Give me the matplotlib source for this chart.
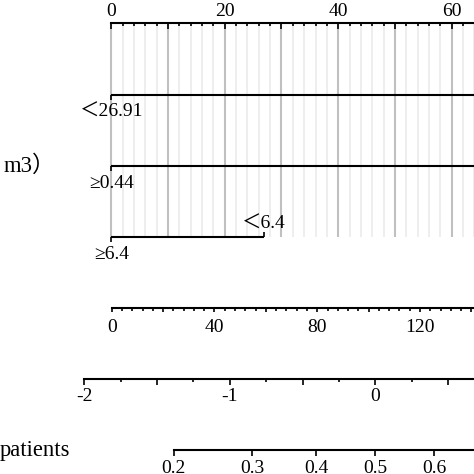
import numpy as np
import matplotlib
matplotlib.use('Agg')
import matplotlib.pyplot as plt
from matplotlib.markers import TICKDOWN, TICKUP

plt.rcParams['font.family'] = ['Liberation Serif', 'Noto Sans CJK SC']
plt.rcParams['font.size'] = 14

# Points scale
points_major = [0, 10, 20, 30, 40, 50, 60, 70, 80, 90, 100]
points_minor = [0, 2, 4, 6, 8, 10, 12, 14, 16, 18, 20, 22, 24, 26, 28, 30, 32, 34, 36, 38, 40,
                42, 44, 46, 48, 50, 52, 54, 56, 58, 60, 62, 64, 66, 68, 70, 72, 74, 76, 78, 80,
                82, 84, 86, 88, 90, 92, 94, 96, 98, 100]
points_labels = ['0', '', '20', '', '40', '', '60', '', '80', '', '100']

# Predictors (points of each level, level labels, side of label)
var1_pts = [0, 100]
var1_lab = ['＜26.91', '≥26.91']
var1_side = ['below', 'below']
var2_pts = [0, 78]
var2_lab = ['≥0.44', '＜0.44']
var2_side = ['below', 'below']
var3_pts = [0, 26.9]
var3_lab = ['≥6.4', '＜6.4']
var3_side = ['below', 'above']
predictors = [(var1_pts, var1_lab, var1_side),
              (var2_pts, var2_lab, var2_side),
              (var3_pts, var3_lab, var3_side)]

# Total points
tp_major = [0, 20, 40, 60, 80, 100, 120, 140, 160, 180]
tp_labels = ['0', '', '40', '', '80', '', '120', '', '160', '']
tp_minor = [0, 4, 8, 12, 16, 20, 24, 28, 32, 36, 40, 44, 48, 52, 56, 60, 64, 68, 72, 76, 80,
            84, 88, 92, 96, 100, 104, 108, 112, 116, 120, 124, 128, 132, 136, 140, 144, 148,
            152, 156, 160, 164, 168, 172, 176, 180]

# Linear predictor
lp_major = [-2, -1.5, -1, -0.5, 0, 0.5, 1, 1.5]
lp_labels = ['-2', '', '-1', '', '0', '', '1', '']
lp_minor = [-2, -1.75, -1.5, -1.25, -1, -0.75, -0.5, -0.25, 0, 0.25, 0.5, 0.75, 1, 1.25, 1.5]

# Risk
prob_ticks = [0.2, 0.3, 0.4, 0.5, 0.6, 0.7, 0.8]
prob_labels = ['0.2', '0.3', '0.4', '0.5', '0.6', '0.7', '0.8']

lw = 1.5
fig = plt.figure(figsize=(4.74, 4.74), dpi=100)
ax = fig.add_axes([0, 0, 1, 1])
ax_tp = ax.twiny()
ax_lp = ax.twiny()
ax_pr = ax.twiny()
ax.set_yticks([])
ax.patch.set_visible(False)


def scale(a, side, row, lo, hi, major, labels, minor, lim, direction, maj_len, min_len, pad):
    for s in a.spines.values():
        s.set_visible(False)
    sp = a.spines[side]
    sp.set_visible(True)
    sp.set_position(('data', row))
    sp.set_bounds(lo, hi)
    sp.set_linewidth(lw)
    if side == 'top':
        a.xaxis.tick_top()
    else:
        a.xaxis.tick_bottom()
    a.set_xticks(major, labels=labels)
    a.set_xticks(minor, minor=True)
    a.set_xlim(*lim)
    a.tick_params(which='major', direction=direction, length=maj_len, width=1.2, pad=pad)
    a.tick_params(which='minor', direction=direction, length=min_len, width=1.2)


# points axis on top
scale(ax, 'top', -1, 0, 100, points_major, points_labels, points_minor,
      (-19.62, 63.94), 'in', 4.3, 2.2, 2.7)
ax.set_ylim(5.333, -1.330)

# grid
ax.vlines(points_minor, -1, 2, color='#ebebeb', lw=1.2, zorder=0)
ax.vlines(points_major, -1, 2, color='#c0c0c0', lw=1.5, zorder=0.5)

# predictor rows
for i, (pts, labs, sides) in enumerate(predictors):
    ax.plot([min(pts), max(pts)], [i, i], color='black', lw=lw, solid_capstyle='butt', zorder=3)
    for p, l, s in zip(pts, labs, sides):
        mk = TICKDOWN if s == 'below' else TICKUP
        ax.plot(p, i, marker=mk, ms=3.6, mew=1.2, color='black', zorder=3)
        off = -16.2 if s == 'below' else 5.5
        ax.annotate(l, (p, i), xytext=(0, off), textcoords='offset points',
                    ha='center', va='baseline')

ax.text(0.117, 1, 'm3）', transform=ax.get_yaxis_transform(), ha='right', va='center',
        fontsize=16.3)
ax.text(0.1477, 5, 'patients', transform=ax.get_yaxis_transform(), ha='right', va='center',
        fontsize=16.3)

scale(ax_tp, 'bottom', 3, 0, 180, tp_major, tp_labels, tp_minor,
      (-43.48, 141.02), 'out', 3.2, 1.8, 4.5)

lp_lim = (-2.5794, 0.6784)
scale(ax_lp, 'bottom', 4, -2, 1.5, lp_major, lp_labels, lp_minor,
      lp_lim, 'out', 4.3, 2.2, 2.0)

ax_pr.set_xscale('logit')
prob_lim = (1 / (1 + np.exp(-lp_lim[0])), 1 / (1 + np.exp(-lp_lim[1])))
scale(ax_pr, 'bottom', 5, 0.2, 0.8, prob_ticks, prob_labels, [],
      prob_lim, 'out', 4.0, 0, 3.0)

fig.savefig('out.png', dpi=100)
